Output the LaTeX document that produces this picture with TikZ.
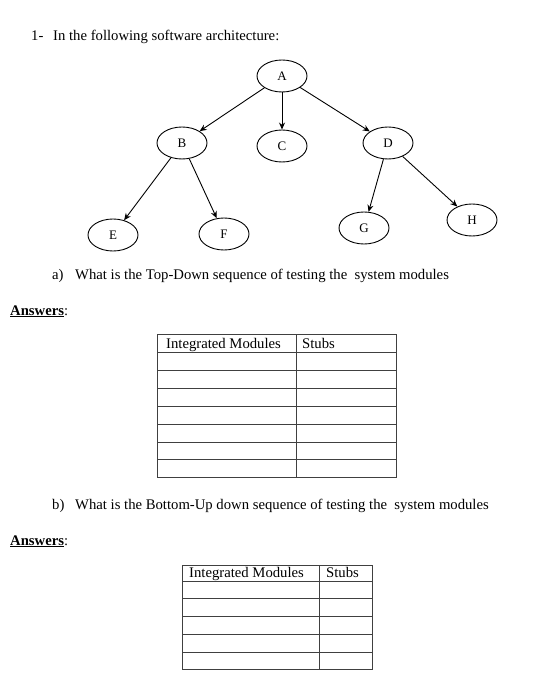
\documentclass[tikz,border=0pt]{standalone}
\usepackage{fontspec}
\setmainfont{Liberation Serif}
\usetikzlibrary{arrows.meta,shapes.geometric}
\begin{document}
\begin{tikzpicture}[x=1pt,y=-1pt,
  mod/.style={draw,ellipse,line width=0.9pt,minimum width=50pt,minimum height=32pt,inner sep=0pt,font=\fontsize{13}{15}\selectfont},
  arr/.style={-{Stealth[length=7pt,width=6pt]},line width=0.9pt},
  txt/.style={anchor=base west,inner sep=0pt,font=\fontsize{14.7}{17}\selectfont},
  tline/.style={line width=0.7pt,draw=black!75}]
\useasboundingbox[fill=white] (0,0) rectangle (539,700);
% heading
\node[txt] (n1) at (31,41) {1-};
\node[txt] (h1) at (53,41) {In the following software architecture:};
% tree
\node[mod] (A) at (282,76) {A};
\node[mod] (B) at (182,143) {B};
\node[mod] (C) at (282,146) {C};
\node[mod] (D) at (388,143) {D};
\node[mod] (E) at (113,235) {E};
\node[mod] (F) at (224,234) {F};
\node[mod] (G) at (364,228) {G};
\node[mod] (H) at (472,220) {H};
\draw[arr] (A) -- (B);
\draw[arr] (A) -- (C);
\draw[arr] (A) -- (D);
\draw[arr] (B) -- (E);
\draw[arr] (B) -- (F);
\draw[arr] (D) -- (G);
\draw[arr] (D) -- (H);
% question a
\node[txt] (qa) at (52,279) {a)};
\node[txt] (qat) at (75,279) {What is the Top-Down sequence of testing the\ \ system modules};
\node[txt] (ans1) at (10,315) {\underline{\textbf{Answers}}:};
% table 1
\draw[tline] (157,334) rectangle (396,477);
\draw[tline] (296,334) -- (296,477);
\foreach \yy in {352,370,388,406,424,442,459} \draw[tline] (157,\yy) -- (396,\yy);
\node[txt] (t1a) at (166,348) {Integrated Modules};
\node[txt] (t1b) at (302,348) {Stubs};
% question b
\node[txt] (qb) at (52,509) {b)};
\node[txt] (qbt) at (75,509) {What is the Bottom-Up down sequence of testing the\ \ system modules};
\node[txt] (ans2) at (10,545) {\underline{\textbf{Answers}}:};
% table 2
\draw[tline] (182,565) rectangle (372,669);
\draw[tline] (319,565) -- (319,669);
\foreach \yy in {581,598,616,634,652} \draw[tline] (182,\yy) -- (372,\yy);
\node[txt] (t2a) at (189,577) {Integrated Modules};
\node[txt] (t2b) at (326,577) {Stubs};
\end{tikzpicture}
\end{document}
